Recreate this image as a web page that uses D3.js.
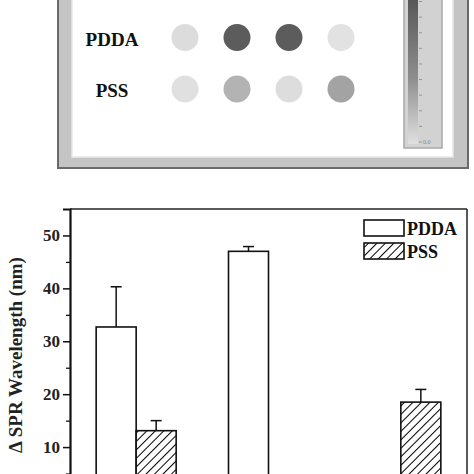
<!DOCTYPE html>
<html><head><meta charset="utf-8">
<script src="https://cdn.jsdelivr.net/npm/d3@7"></script>
<style>html,body{margin:0;padding:0;background:#fff;overflow:hidden}svg{display:block}</style>
</head><body>
<script>
// ---- data ----
const rowLabels = ["PDDA", "PSS"];
const spotCols = [1, 2, 3, 4];
const pddaSpots = ["#dcdcdc", "#5c5c5c", "#5c5c5c", "#e2e2e2"];
const pssSpots = ["#e0e0e0", "#b3b3b3", "#dddddd", "#a3a3a3"];
const colorbarTicks = [0, 1, 2, 3, 4, 5, 6, 7, 8, 9];

const groups = ["A", "B", "C"];
const series = ["PDDA", "PSS"];
const pddaValues = [32.7, 47.0, 0];
const pddaErrors = [7.6, 0.9, 0];
const pssValues = [13.1, 0, 18.5];
const pssErrors = [1.9, 0, 2.4];
const yTicks = [10, 20, 30, 40, 50];
const yMinorTicks = [5, 15, 25, 35, 45];

const W = 474, H = 474;
const svg = d3.select("body").append("svg").attr("width", W).attr("height", H);
const serif = "'Liberation Serif','DejaVu Serif',serif";

const defs = svg.append("defs");
const grad = defs.append("linearGradient").attr("id", "cb").attr("x1", 0).attr("y1", 0).attr("x2", 0).attr("y2", 1);
grad.append("stop").attr("offset", "0%").attr("stop-color", "#4a4a4a");
grad.append("stop").attr("offset", "60%").attr("stop-color", "#8e8e8e");
grad.append("stop").attr("offset", "100%").attr("stop-color", "#e0e0e0");
const hatch = defs.append("pattern").attr("id", "hatch").attr("patternUnits", "userSpaceOnUse")
  .attr("width", 6).attr("height", 6).attr("patternTransform", "rotate(45)");
hatch.append("rect").attr("width", 6).attr("height", 6).attr("fill", "#fff");
hatch.append("line").attr("x1", 0).attr("y1", 0).attr("x2", 0).attr("y2", 6)
  .attr("stroke", "#000").attr("stroke-width", 2);

// ---- top panel (photo-like spot array) ----
const panel = svg.append("g");
panel.append("rect").attr("x", 58).attr("y", -20).attr("width", 410).attr("height", 188)
  .attr("fill", "#c4c4c4").attr("stroke", "#6a6a6a").attr("stroke-width", 2);
panel.append("rect").attr("x", 72).attr("y", -20).attr("width", 381).attr("height", 177)
  .attr("fill", "#fff").attr("stroke", "#e8e8e8").attr("stroke-width", 1.5);

const spotX = d3.scalePoint().domain(spotCols).range([185, 341]);
const spotY = d3.scalePoint().domain(rowLabels).range([37.5, 89]);
const spotData = [];
rowLabels.forEach((r, i) => spotCols.forEach((c, j) => spotData.push({r, c, fill: (i === 0 ? pddaSpots : pssSpots)[j]})));
panel.selectAll("circle.spot").data(spotData).join("circle").attr("class", "spot")
  .attr("cx", d => spotX(d.c)).attr("cy", d => spotY(d.r)).attr("r", 13.5).attr("fill", d => d.fill);
panel.selectAll("text.row").data(rowLabels).join("text").attr("class", "row")
  .attr("x", 112).attr("y", d => spotY(d) + 8).attr("text-anchor", "middle")
  .attr("font-family", serif).attr("font-weight", "bold").attr("font-size", 19).attr("fill", "#111").text(d => d);

// colorbar
panel.append("rect").attr("x", 404).attr("y", -20).attr("width", 38).attr("height", 168)
  .attr("fill", "#d2d2d2").attr("stroke", "#a8a8a8").attr("stroke-width", 1.5);
panel.append("rect").attr("x", 408).attr("y", -20).attr("width", 10).attr("height", 164).attr("fill", "url(#cb)");
const cbY = d3.scaleLinear().domain([0, 9]).range([142, 1.5]);
panel.selectAll("line.cbt").data(colorbarTicks).join("line").attr("class", "cbt")
  .attr("x1", 419).attr("x2", 422).attr("y1", d => cbY(d)).attr("y2", d => cbY(d))
  .attr("stroke", "#888").attr("stroke-width", 0.8);
panel.append("text").attr("x", 423).attr("y", 144).attr("font-family", serif).attr("font-size", 6)
  .attr("fill", "#888").text("0.0");

// ---- bar chart ----
const x0 = d3.scaleBand().domain(groups).range([70, 467]).padding(0);
const x1 = d3.scaleBand().domain(series).range([0, 80]);
const y = d3.scaleLinear().domain([0, 55]).range([500, 209]);
const bw = x0.bandwidth();
const gx = g => x0(g) + (bw - 80) / 2;

const chart = svg.append("g");
chart.append("line").attr("x1", 70).attr("x2", 467).attr("y1", 209).attr("y2", 209).attr("stroke", "#222").attr("stroke-width", 1.5);
chart.append("line").attr("x1", 467).attr("x2", 467).attr("y1", 209).attr("y2", 520).attr("stroke", "#222").attr("stroke-width", 1.5);

const yAxis = d3.axisLeft(y).tickValues(yTicks).tickSize(7).tickPadding(3).tickFormat(d3.format("d"));
const ax = chart.append("g").attr("transform", "translate(70,0)").call(yAxis);
ax.select(".domain").attr("stroke", "#111").attr("stroke-width", 2.2);
ax.selectAll(".tick line").attr("stroke", "#111").attr("stroke-width", 1.5);
ax.selectAll(".tick text").attr("font-family", serif).attr("font-weight", "bold").attr("font-size", 17).attr("fill", "#222");
chart.append("g").attr("transform", "translate(70,0)")
  .call(d3.axisLeft(y).tickValues(yMinorTicks).tickSize(4).tickFormat(""))
  .call(g => g.select(".domain").remove())
  .selectAll(".tick line").attr("stroke", "#111").attr("stroke-width", 1.3);

chart.append("text").attr("transform", "translate(22,355) rotate(-90)").attr("text-anchor", "middle")
  .attr("font-family", serif).attr("font-weight", "bold").attr("font-size", 19).attr("fill", "#222")
  .text("\u0394 SPR Wavelength (nm)");

const barData = [];
groups.forEach((g, i) => {
  barData.push({g, s: "PDDA", v: pddaValues[i], e: pddaErrors[i]});
  barData.push({g, s: "PSS", v: pssValues[i], e: pssErrors[i]});
});
const shown = barData.filter(d => d.v > 0);
const cx = d => gx(d.g) + x1(d.s) + x1.bandwidth() / 2;
chart.selectAll("line.err").data(shown).join("line").attr("class", "err")
  .attr("x1", cx).attr("x2", cx)
  .attr("y1", d => y(d.v)).attr("y2", d => y(d.v + d.e)).attr("stroke", "#111").attr("stroke-width", 1.5);
chart.selectAll("line.cap").data(shown).join("line").attr("class", "cap")
  .attr("x1", d => cx(d) - 5.5).attr("x2", d => cx(d) + 5.5)
  .attr("y1", d => y(d.v + d.e)).attr("y2", d => y(d.v + d.e)).attr("stroke", "#111").attr("stroke-width", 1.5);
chart.selectAll("rect.bar").data(shown).join("rect").attr("class", "bar")
  .attr("x", d => gx(d.g) + x1(d.s)).attr("width", x1.bandwidth())
  .attr("y", d => y(d.v)).attr("height", d => y(0) - y(d.v))
  .attr("fill", d => d.s === "PDDA" ? "#fff" : "url(#hatch)")
  .attr("stroke", "#111").attr("stroke-width", 1.6);

// legend
const lg = chart.append("g");
series.forEach((s, i) => {
  const yy = 220 + i * 23;
  lg.append("rect").attr("x", 364).attr("y", yy).attr("width", 40).attr("height", 16)
    .attr("fill", s === "PDDA" ? "#fff" : "url(#hatch)").attr("stroke", "#111").attr("stroke-width", 1.6);
  lg.append("text").attr("x", 407).attr("y", yy + 15).attr("font-family", serif).attr("font-weight", "bold")
    .attr("font-size", 18).attr("fill", "#111").text(s);
});
</script>
</body></html>
